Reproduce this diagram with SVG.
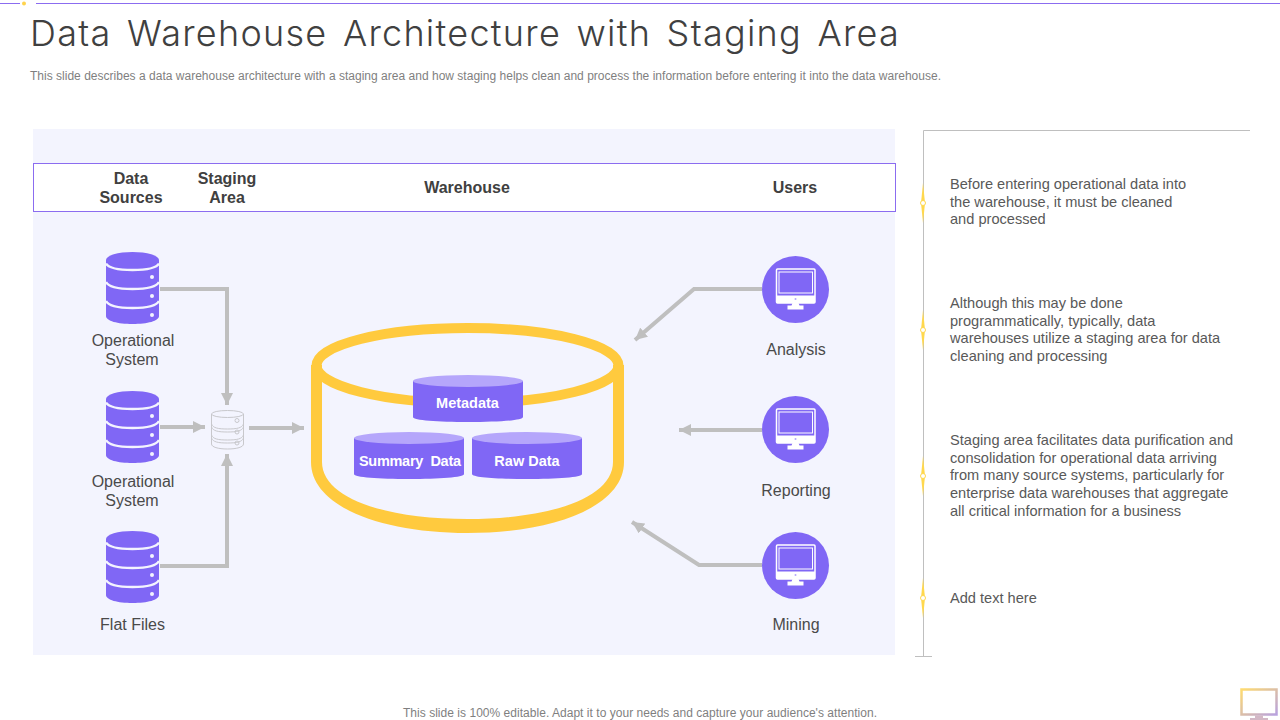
<svg xmlns="http://www.w3.org/2000/svg" width="1280" height="720" viewBox="0 0 1280 720">
<style>
text{font-family:"Liberation Sans",Arial,sans-serif}
.lab{font-size:16px;fill:#4a4a4a;text-anchor:middle}
.hd{font-size:16px;font-weight:700;fill:#404040;text-anchor:middle}
.db{font-size:14.5px;font-weight:700;fill:#fff;text-anchor:middle;white-space:pre}
.note{font-size:14.6px;fill:#595959}
.conn{fill:none;stroke:#bfbfbf;stroke-width:4}
.p{fill:#8067f5}
.band{fill:none;stroke:#f3f4fe;stroke-width:2.5}
.edge{fill:#8b6cf0}
</style>
<defs>
<marker id="ah" markerUnits="userSpaceOnUse" markerWidth="13" markerHeight="12" refX="12" refY="6" orient="auto"><path d="M0 0L12 6L0 12z" fill="#bfbfbf"/></marker>
<g id="stack">
<path class="p" d="M-26.500-28V28C-26.500 33-15 36 0 36S26.500 33 26.500 28V-28z"/>
<ellipse class="p" cx="0" cy="-28" rx="26.500" ry="8"/>
<path class="band" d="M-26.500-24.500C-24-20-13-18 0-18S24-20 26.500-24.500"/>
<path class="band" d="M-26.500-6C-24-1-13 1 0 1S24-1 26.500-6"/>
<path class="band" d="M-26.500 13C-24 18-13 20 0 20S24 18 26.500 13"/>
<circle cx="19.500" cy="-11" r="2" fill="#f3f4fe"/><circle cx="19.500" cy="8" r="2" fill="#f3f4fe"/><circle cx="19.500" cy="27" r="2" fill="#f3f4fe"/>
</g>
<g id="pc">
<circle r="33.500" class="p"/>
<rect x="-19" y="-20.500" width="38.500" height="34" rx="1" fill="none" stroke="#fff" stroke-width="1.500"/>
<rect x="-16.500" y="-17.500" width="33.500" height="21" fill="none" stroke="#fff" stroke-width="1"/>
<rect x="-19" y="6" width="38.500" height="7.500" fill="#fff"/>
<circle cx="0" cy="9.500" r="1" fill="#b5a6fb"/>
<path d="M-3 13.500H3L4 16H8V20H-8V16H-4z" fill="#fff"/>
</g>
<g id="cyl">
<path d="M-55-15V21C-55 24.500-30 26-0 26S55 24.500 55 21V-15z" fill="#8067f5"/>
<ellipse cx="0" cy="-15" rx="55" ry="6" fill="#b5a6fb"/>
</g>
<linearGradient id="mon" x1="0" y1="0" x2="1" y2="1"><stop offset="0" stop-color="#ffd34d"/><stop offset="1" stop-color="#a78bd8"/></linearGradient>
</defs>
<rect width="1280" height="720" fill="#fff"/>
<rect class="edge" x="0" y="3" width="20" height="1"/><rect class="edge" x="36" y="3" width="1244" height="1"/>
<circle cx="24" cy="3.500" r="2" fill="#ffd34d"/>
<text x="30" y="46" font-size="36" fill="#404040" letter-spacing="1.2" word-spacing="4" textLength="870" style="font-family:Inter,'Liberation Sans',sans-serif;font-weight:300">Data Warehouse Architecture with Staging Area</text>
<text x="30" y="80" font-size="12" fill="#7f7f7f" textLength="911">This slide describes a data warehouse architecture with a staging area and how staging helps clean and process the information before entering it into the data warehouse.</text>
<rect x="33" y="129" width="862" height="526" fill="#f3f4fe"/>
<rect x="33" y="163" width="863" height="49" class="edge"/>
<rect x="34" y="164" width="861" height="47" fill="#fff"/>
<g id="headers">
<text class="hd" x="131" y="184">Data</text><text class="hd" x="131" y="203">Sources</text>
<text class="hd" x="227" y="184">Staging</text><text class="hd" x="227" y="203">Area</text>
<text class="hd" x="467" y="193">Warehouse</text>
<text class="hd" x="795" y="193">Users</text>
</g>
<g id="connectors">
<path class="conn" d="M160 289H227V405" marker-end="url(#ah)"/>
<path class="conn" d="M160 427H205" marker-end="url(#ah)"/>
<path class="conn" d="M160 566H227V454" marker-end="url(#ah)"/>
<path class="conn" d="M249 428H304" marker-end="url(#ah)"/>
<path class="conn" d="M762 289H694L635 340" marker-end="url(#ah)"/>
<path class="conn" d="M762 430H679" marker-end="url(#ah)"/>
<path class="conn" d="M762 565H699L632 522" marker-end="url(#ah)"/>
</g>
<g id="src1"><use href="#stack" x="132.500" y="288"/><text class="lab" x="133" y="346">Operational</text><text class="lab" x="132" y="365">System</text></g>
<g id="src2"><use href="#stack" x="132.500" y="427"/><text class="lab" x="133" y="487">Operational</text><text class="lab" x="132" y="506">System</text></g>
<g id="src3"><use href="#stack" x="132.500" y="567"/><text class="lab" x="132.500" y="630">Flat Files</text></g>
<g id="staging" fill="none" stroke="#c8c8cc" stroke-width="1">
<path d="M211.500 414V444C211.500 447 218 449 227.500 449S243.500 447 243.500 444V414"/>
<ellipse cx="227.500" cy="414" rx="16" ry="3.500"/>
<path d="M211.500 424C213 428 218 429 227.500 429S242 428 243.500 424M211.500 435C213 439 218 440 227.500 440S242 439 243.500 435M211.500 427C213 431 218 432 227.500 432S242 431 243.500 427M211.500 438C213 442 218 443 227.500 443S242 442 243.500 438"/>
<circle cx="237" cy="420.500" r="2"/><circle cx="237" cy="432" r="2"/><circle cx="237" cy="443" r="2"/>
</g>
<g id="warehouse">
<ellipse cx="467.500" cy="365.500" rx="151" ry="37.500" fill="none" stroke="#ffca3e" stroke-width="10"/>
<path d="M311 365V462C311 506 380 533 467.500 533S624 506 624 462V365H613V462C613 498 550 519 467.500 519S322 498 322 462V365z" fill="#ffca3e"/>
</g>
<g id="metadata"><use href="#cyl" x="468" y="396"/><text class="db" x="467.500" y="408">Metadata</text></g>
<g id="summary"><use href="#cyl" x="409" y="453"/><text class="db" x="410" y="466" textLength="102">Summary  Data</text></g>
<g id="raw"><use href="#cyl" x="527" y="453"/><text class="db" x="527" y="466">Raw Data</text></g>
<g id="analysis"><use href="#pc" x="795.500" y="289.500"/><text class="lab" x="796" y="355">Analysis</text></g>
<g id="reporting"><use href="#pc" x="795.500" y="429.500"/><text class="lab" x="796" y="496">Reporting</text></g>
<g id="mining"><use href="#pc" x="795.500" y="565.500"/><text class="lab" x="796" y="630">Mining</text></g>
<g id="timeline" fill="none">
<path d="M1250 130.500H923.500V656.500M915 656.500H932" stroke="#bfbfbf" stroke-width="1"/>
<g fill="#ffd84d" stroke="none">
<path d="M923 183L925 203L923 223L921 203z"/><path d="M923 310L925 330L923 350L921 330z"/><path d="M923 456L925 476L923 496L921 476z"/><path d="M923 578L925 598L923 618L921 598z"/>
</g>
<g fill="#fff" stroke="#ffd84d" stroke-width="1"><circle cx="923" cy="203" r="2.500"/><circle cx="923" cy="330" r="2.500"/><circle cx="923" cy="476" r="2.500"/><circle cx="923" cy="598" r="2.500"/></g>
</g>
<g id="notes">
<text class="note" x="950" y="189">Before entering operational data into</text>
<text class="note" x="950" y="207">the warehouse, it must be cleaned</text>
<text class="note" x="950" y="224">and processed</text>
<text class="note" x="950" y="308">Although this may be done</text>
<text class="note" x="950" y="326">programmatically, typically, data</text>
<text class="note" x="950" y="343">warehouses utilize a staging area for data</text>
<text class="note" x="950" y="361">cleaning and processing</text>
<text class="note" x="950" y="445">Staging area facilitates data purification and</text>
<text class="note" x="950" y="463">consolidation for operational data arriving</text>
<text class="note" x="950" y="480">from many source systems, particularly for</text>
<text class="note" x="950" y="498">enterprise data warehouses that aggregate</text>
<text class="note" x="950" y="516">all critical information for a business</text>
<text class="note" x="950" y="603">Add text here</text>
</g>
<text x="403" y="717" font-size="12" fill="#7f7f7f" textLength="474">This slide is 100% editable. Adapt it to your needs and capture your audience's attention.</text>
<g id="monitor" opacity="0.8"><rect x="1241.500" y="689.500" width="35" height="25" fill="#fff" stroke="url(#mon)" stroke-width="2.500"/><path d="M1255 715.500H1263V718H1268V720H1250V718H1255z" fill="#c9a7b8"/></g>
</svg>
